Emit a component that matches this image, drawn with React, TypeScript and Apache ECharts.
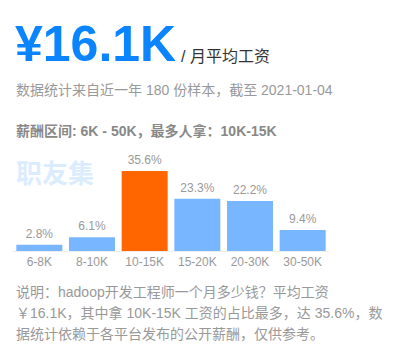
import React, { useEffect, useRef } from "react";
import * as echarts from "echarts";

const categories = ["6-8K", "8-10K", "10-15K", "15-20K", "20-30K", "30-50K"];
const shares = [2.8, 6.1, 35.6, 23.3, 22.2, 9.4];
const highlightIndex = 2;

const headline = "¥16.1K";
const headlineUnit = "/ 月平均工资";
const sourceNote = "数据统计来自近一年 180 份样本，截至 2021-01-04";
const rangeNote = "薪酬区间: 6K - 50K，最多人拿：10K-15K";
const watermark = "职友集";
const descLines = [
  "说明：hadoop开发工程师一个月多少钱？平均工资",
  "￥16.1K，其中拿 10K-15K 工资的占比最多，达 35.6%，数",
  "据统计依赖于各平台发布的公开薪酬，仅供参考。",
];

const FONT = "'Liberation Sans', Arial, 'Noto Sans CJK SC', sans-serif";

export default function App() {
  const ref = useRef<HTMLDivElement>(null);
  useEffect(() => {
    if (!ref.current) return;
    const chart = echarts.init(ref.current, null, { renderer: "svg" });
    const txt = (text: string, x: number, y: number, size: number, color: string, weight: string = "normal") => ({
      type: "text",
      x,
      y,
      silent: true,
      style: {
        text,
        fill: color,
        fontSize: size,
        fontWeight: weight,
        fontFamily: FONT,
        verticalAlign: "middle",
        align: "left",
      },
    });
    chart.setOption({
      animation: false,
      backgroundColor: "#ffffff",
      grid: { left: 13, right: 86, top: 171, bottom: 106, outerBoundsMode: "none" },
      xAxis: {
        type: "category",
        data: categories,
        axisLine: { show: true, lineStyle: { color: "#eeeeee", width: 1 } },
        axisTick: { show: false },
        axisLabel: { color: "#999999", fontSize: 12, margin: 5, fontFamily: FONT, interval: 0 },
        splitLine: { show: false },
      },
      yAxis: {
        type: "value",
        min: 0,
        max: 35.6,
        show: false,
        splitLine: { show: false },
      },
      graphic: [
        txt(watermark, 16, 174, 26, "#dcecff", "bold"),
        txt(headline, 15, 43.5, 50, "#0a84ff", "bold"),
        txt(headlineUnit, 181, 56, 16, "#333333"),
        txt(sourceNote, 16, 90, 14, "#999999"),
        txt(rangeNote, 16, 131, 14, "#888888", "bold"),
        ...descLines.map((l, i) => txt(l, 16, 292 + i * 21, 14, "#999999")),
      ],
      series: [
        {
          type: "bar",
          barWidth: 46,
          data: shares.map((v, i) => ({
            value: v,
            itemStyle: { color: i === highlightIndex ? "#ff6600" : "#78b7ff" },
          })),
          label: {
            show: true,
            position: "top",
            distance: 5,
            formatter: "{c}%",
            color: "#999999",
            fontSize: 12,
            fontFamily: FONT,
          },
        },
      ],
    });
    return () => chart.dispose();
  }, []);
  return <div ref={ref} style={{ position: "fixed", left: 0, top: 0, width: 415, height: 357 }} />;
}
